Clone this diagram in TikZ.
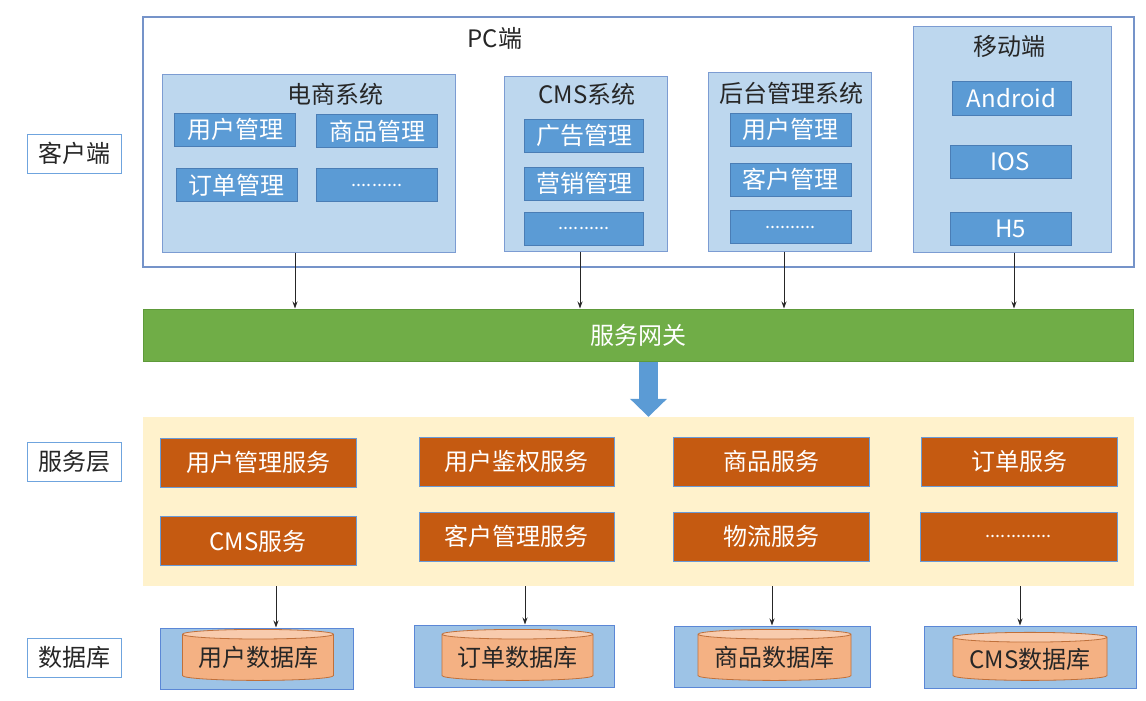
\documentclass[tikz,border=0pt]{standalone}
\usepackage{fontspec}
\newfontfamily\cjk{Noto Sans CJK SC}
\usetikzlibrary{shapes.geometric,arrows.meta}
\definecolor{frameblue}{HTML}{7593C9}
\definecolor{sysfill}{HTML}{BDD7EE}
\definecolor{sysline}{HTML}{7C9CD2}
\definecolor{itemfill}{HTML}{5B9BD5}
\definecolor{itemline}{HTML}{4A7DB5}
\definecolor{gwfill}{HTML}{70AD47}
\definecolor{gwline}{HTML}{5E9A3A}
\definecolor{layerfill}{HTML}{FFF2CC}
\definecolor{svcfill}{HTML}{C55A11}
\definecolor{svcline}{HTML}{6A9BD8}
\definecolor{dbfill}{HTML}{9DC3E6}
\definecolor{dbline}{HTML}{5B87D6}
\definecolor{cylbody}{HTML}{F4B183}
\definecolor{cyltop}{HTML}{F8CBAD}
\definecolor{cylline}{HTML}{C0703A}
\definecolor{lblline}{HTML}{6FA4DE}
\definecolor{txtgray}{HTML}{262626}
\newcommand{\fewdots}{{\fontsize{18}{18}\selectfont ..........}}
\newcommand{\manydots}{{\fontsize{18}{18}\selectfont .............}}
\begin{document}
\begin{tikzpicture}[x=1pt,y=-1pt,>={Stealth[length=7pt,width=5pt]},
    every node/.style={font=\cjk\fontsize{24}{28}\selectfont,inner sep=0pt,text=txtgray},
    pcframe/.style={draw=frameblue,line width=1.2pt,fill=white},
    sysbox/.style={draw=sysline,fill=sysfill,line width=1pt},
    itembox/.style={draw=itemline,fill=itemfill,line width=1pt,text=white,minimum width=121pt,minimum height=33pt},
    gwbar/.style={draw=gwline,fill=gwfill,line width=1pt,text=white},
    svcbox/.style={draw=svcline,fill=svcfill,line width=1pt,text=white,minimum width=196pt,minimum height=49pt},
    dbbox/.style={draw=dbline,fill=dbfill,line width=1pt,minimum height=61pt},
    dbcyl/.style={cylinder,shape border rotate=90,aspect=0.08,draw=cylline,line width=0.8pt,
      cylinder uses custom fill,cylinder body fill=cylbody,cylinder end fill=cyltop,minimum height=51pt},
    layerlabel/.style={draw=lblline,fill=white,line width=1pt,minimum width=94pt,minimum height=39pt},
    thinarrow/.style={->,draw=txtgray,line width=1pt},
    fatarrow/.style={draw=itemfill,line width=19pt,-{Triangle[width=36pt,length=18pt]}}]
    \useasboundingbox (0,0) rectangle (1146,701);
    \node[layerlabel] (clientlbl) at (74,153.5) {客户端};
    \node[layerlabel] (svclbl) at (74,461.5) {服务层};
    \node[layerlabel] (dblbl) at (74,657.5) {数据库};
    \node[pcframe,minimum width=991pt,minimum height=250pt] (pc) at (638.5,142) {};
    \node (pctitle) at (495,38) {PC端};
    \node[sysbox,minimum width=293pt,minimum height=177pt] (ds) at (308.5,163.5) {};
    \node (dstitle) at (335,94) {电商系统};
    \node[itembox] (dsuser) at (235,129.5) {用户管理};
    \node[itembox] (dsgoods) at (377,131) {商品管理};
    \node[itembox] (dsorder) at (236.5,185) {订单管理};
    \node[itembox] (dsmore) at (377,185) {\fewdots};
    \node[sysbox,minimum width=163pt,minimum height=174pt] (cms) at (585.5,164) {};
    \node (cmstitle) at (587,94) {CMS系统};
    \node[itembox,minimum width=119pt] (cmsad) at (584,135.5) {广告管理};
    \node[itembox,minimum width=119pt] (cmsmkt) at (584,183.5) {营销管理};
    \node[itembox,minimum width=119pt] (cmsmore) at (584,228.5) {\fewdots};
    \node[sysbox,minimum width=163pt,minimum height=178pt] (admin) at (789.5,162) {};
    \node (admintitle) at (791.5,93) {后台管理系统};
    \node[itembox] (adminuser) at (790.5,129.5) {用户管理};
    \node[itembox] (admincust) at (790.5,179.5) {客户管理};
    \node[itembox] (adminmore) at (790.5,227) {\fewdots};
    \node[sysbox,minimum width=198pt,minimum height=225pt] (mobile) at (1012,139.5) {};
    \node (mobiletitle) at (1009.5,46) {移动端};
    \node[itembox,minimum width=119pt] (android) at (1011.5,98.5) {Android};
    \node[itembox] (ios) at (1010.5,161.5) {IOS};
    \node[itembox] (hfive) at (1010.5,228.5) {H5};
    \node[gwbar,minimum width=990pt,minimum height=52pt] (gw) at (638,335) {服务网关};
    \draw[thinarrow] (ds.south -| 295,0) -- (gw.north -| 295,0);
    \draw[thinarrow] (cms.south -| 580,0) -- (gw.north -| 580,0);
    \draw[thinarrow] (admin.south -| 784,0) -- (gw.north -| 784,0);
    \draw[thinarrow] (mobile.south -| 1014,0) -- (gw.north -| 1014,0);
    \node[fill=layerfill,minimum width=991pt,minimum height=169pt] (svc) at (638.5,501.5) {};
    \draw[fatarrow] (gw.south -| 648.5,0) -- (svc.north -| 648.5,0);
    \node[svcbox] (usersvc) at (258,462.5) {用户管理服务};
    \node[svcbox] (cmssvc) at (258,541) {CMS服务};
    \node[svcbox,minimum width=195pt] (authsvc) at (516.5,461.5) {用户鉴权服务};
    \node[svcbox,minimum width=195pt] (custsvc) at (516.5,536.5) {客户管理服务};
    \node[svcbox] (goodssvc) at (771,461.5) {商品服务};
    \node[svcbox] (logsvc) at (771,536.5) {物流服务};
    \node[svcbox] (ordersvc) at (1019,461.5) {订单服务};
    \node[svcbox,minimum width=197pt] (moresvc) at (1018.5,536.5) {\manydots};
    \node[dbbox,minimum width=193pt] (userdbbox) at (256.5,658.5) {};
    \node[dbcyl,minimum width=151pt] (userdb) at (258,657.5) {用户数据库};
    \node[dbbox,minimum width=200pt,minimum height=62pt] (orderdbbox) at (514.5,656) {};
    \node[dbcyl,minimum width=151pt] (orderdb) at (517.5,657.5) {订单数据库};
    \node[dbbox,minimum width=196pt] (goodsdbbox) at (772.5,656.5) {};
    \node[dbcyl,minimum width=153pt] (goodsdb) at (774.5,657.5) {商品数据库};
    \node[dbbox,minimum width=212pt,minimum height=62pt] (cmsdbbox) at (1030,657) {};
    \node[dbcyl,minimum width=154pt,minimum height=48pt] (cmsdb) at (1030,659) {CMS数据库};
    \draw[thinarrow] (svc.south -| 276,0) -- (userdbbox.north -| 276,0);
    \draw[thinarrow] (svc.south -| 525,0) -- (orderdbbox.north -| 525,0);
    \draw[thinarrow] (svc.south -| 772,0) -- (goodsdbbox.north -| 772,0);
    \draw[thinarrow] (svc.south -| 1020,0) -- (cmsdbbox.north -| 1020,0);
\end{tikzpicture}
\end{document}
